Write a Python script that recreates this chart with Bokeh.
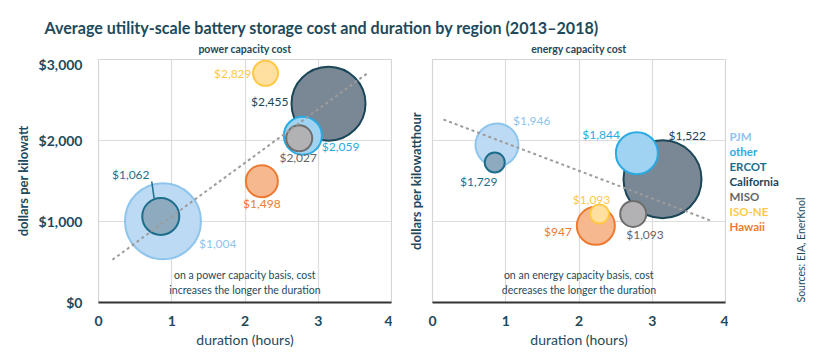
import numpy as np
from bokeh.plotting import figure
from bokeh.layouts import column, row
from bokeh.models import ColumnDataSource, FixedTicker, NumeralTickFormatter, Range1d
from bokeh.core.properties import value
from bokeh.embed import file_html
from bokeh.resources import INLINE

# ---------------- data ----------------
TITLE = "Average utility-scale battery storage cost and duration by region (2013\u20132018)"
regions = ["PJM", "other", "ERCOT", "California", "MISO", "ISO-NE", "Hawaii"]
duration_hours = [0.88, 2.79, 0.85, 3.14, 2.74, 2.28, 2.23]
power_cost = [1004, 2059, 1062, 2455, 2027, 2829, 1498]      # $/kW
energy_cost = [1946, 1844, 1729, 1522, 1093, 1093, 947]      # $/kWh
power_bubble = [76, 38, 37, 74, 26, 25, 32]                  # bubble diameter (px)
energy_bubble = [43, 42, 20, 78, 26, 19, 38]
x_ticks = [0, 1, 2, 3, 4]
y_ticks = [0, 1000, 2000, 3000]
power_trend_x = [0.19, 3.68]
power_trend_y = [527, 2836]
energy_trend_x = [0.15, 3.80]
energy_trend_y = [2259, 1010]
SUBTITLES = ["power capacity cost", "energy capacity cost"]
SOURCE = "Sources: EIA, EnerKnol"

# ---------------- styles ----------------
FONT = "Lato"
DARK = "#1e4a5b"
fill_colors = ["#bcdaf3", "#a0d3f1", "#8eaabf", "#7a8794", "#b2b2b4", "#ffe0a0", "#f6b98f"]
line_colors = ["#8ec5ec", "#29abe2", "#1c6e8c", "#1a4657", "#6e6e6e", "#ffc845", "#ee7a32"]
text_colors = ["#8ec5ec", "#29abe2", "#1c6e8c", "#1a4657", "#666666", "#ffc845", "#ee7a32"]
draw_order = [0, 3, 1, 2, 4, 6, 5]

power_lab = dict(align=["left", "left", "center", "right", "center", "right", "center"],
                 xo=[36, 19, -30, -40, -1, -14, 0],
                 yo=[22, 11, -42, -2, 19, 0, 22])
energy_lab = dict(align=["left", "right", "center", "left", "left", "center", "right"],
                  xo=[16, -17, -16, 6, -7, -8, -24],
                  yo=[-24, -19, 19, -44, 21, -14, 6])

# layout (pixels)
TITLE_H = 55
PANEL_H = 305
B_TOP, B_BOT = 4, 58
FRAME_H = PANEL_H - B_TOP - B_BOT


def make_panel(width, bl, br, ylabel, costs, bubbles, labs, trend_x, trend_y,
               note1, note2, show_ytick_labels):
    p = figure(width=width, height=PANEL_H, x_range=Range1d(0, 4), y_range=Range1d(0, 3000),
               output_backend="svg", toolbar_location=None, title=None,
               min_border_left=bl, min_border_right=br, min_border_top=B_TOP,
               min_border_bottom=B_BOT)
    p.background_fill_color = "white"
    p.border_fill_color = "white"
    p.outline_line_color = "#d6d6d6"
    p.outline_line_width = 1.2

    p.xaxis.ticker = FixedTicker(ticks=x_ticks)
    p.xgrid.ticker = FixedTicker(ticks=x_ticks)
    p.ygrid.ticker = FixedTicker(ticks=y_ticks)
    p.xgrid.grid_line_color = "#dcdcdc"
    p.ygrid.grid_line_color = "#dcdcdc"
    p.xgrid.grid_line_width = 1.2
    p.ygrid.grid_line_width = 1.2

    xa = p.xaxis[0]
    xa.axis_line_color = "#333333"
    xa.axis_line_width = 2
    xa.major_tick_line_color = None
    xa.minor_tick_line_color = None
    xa.major_label_text_font = FONT
    xa.major_label_text_font_style = "bold"
    xa.major_label_text_font_size = "14px"
    xa.major_label_text_color = DARK
    xa.major_label_standoff = 7
    xa.axis_label = "duration (hours)"
    xa.axis_label_text_font = FONT
    xa.axis_label_text_font_style = "normal"
    xa.axis_label_text_font_size = "14px"
    xa.axis_label_text_color = DARK
    xa.axis_label_standoff = 2

    ya = p.yaxis[0]
    ya.axis_line_color = None
    ya.major_tick_line_color = None
    ya.minor_tick_line_color = None
    if show_ytick_labels:
        ya.ticker = FixedTicker(ticks=y_ticks)
        ya.formatter = NumeralTickFormatter(format="$0,0")
        ya.major_label_text_font = FONT
        ya.major_label_text_font_style = "bold"
        ya.major_label_text_color = DARK
        ya.major_label_text_font_size = "14px"
        ya.major_label_standoff = 10
        ya.axis_label_standoff = 5
    else:
        ya.ticker = FixedTicker(ticks=[])
        ya.major_label_standoff = 0
        ya.axis_label_standoff = 9
    ya.axis_label = ylabel
    ya.axis_label_text_font = FONT
    ya.axis_label_text_font_style = "bold"
    ya.axis_label_text_font_size = "13px"
    ya.axis_label_text_color = DARK

    src = ColumnDataSource(dict(
        x=[duration_hours[i] for i in draw_order],
        y=[costs[i] for i in draw_order],
        size=[bubbles[i] for i in draw_order],
        fill=[fill_colors[i] for i in draw_order],
        line=[line_colors[i] for i in draw_order],
    ))
    p.scatter(x="x", y="y", size="size", fill_color="fill", line_color="line",
              line_width=2, fill_alpha=1.0, source=src)

    p.line(x=trend_x, y=trend_y, line_dash="3 3", line_color="#9c9c9c", line_width=2)

    lsrc = ColumnDataSource(dict(
        x=duration_hours, y=costs,
        text=["$" + format(v, ",") for v in costs],
        color=text_colors, align=labs["align"], xo=labs["xo"], yo=labs["yo"],
    ))
    p.text(x="x", y="y", text="text", source=lsrc, text_color="color", text_align="align",
           x_offset="xo", y_offset="yo", text_baseline="middle",
           text_font=value(FONT), text_font_size="12px")

    p.text(x=[2, 2], y=[0, 0], text=[note1, note2], y_offset=[-28, -13],
           text_align="center", text_baseline="middle", text_font=value(FONT),
           text_font_size="10.5px", text_color=DARK)
    return p


p1 = make_panel(392, 98, 1, "dollars per kilowatt", power_cost, power_bubble, power_lab,
                power_trend_x, power_trend_y,
                "on a power capacity basis, cost", "increases the longer the duration", True)

# leader line from the ERCOT label to its bubble (relative to the ERCOT point)
ie = regions.index("ERCOT")
p1.segment(x0=[duration_hours[ie] - 0.123], y0=[power_cost[ie] + 432],
           x1=[duration_hours[ie] - 0.091], y1=[power_cost[ie] + 227],
           line_color=line_colors[ie], line_width=1.5)

p2 = make_panel(336, 40, 3, "dollars per kilowatthour", energy_cost, energy_bubble, energy_lab,
                energy_trend_x, energy_trend_y,
                "on an energy capacity basis, cost", "decreases the longer the duration", False)


def blank(width, height, top=0, bottom=0):
    f = figure(width=width, height=height, x_range=Range1d(0, width),
               y_range=Range1d(0, height - top - bottom),
               min_border=0, min_border_top=top, min_border_bottom=bottom,
               x_axis_location=None, y_axis_location=None, title=None,
               toolbar_location=None, output_backend="svg")
    f.outline_line_color = None
    f.grid.visible = False
    f.background_fill_color = "white"
    f.border_fill_color = "white"
    return f


# title + panel subtitles (y measured up from the bottom of this strip)
t = blank(823, TITLE_H)
t.text(x=[44], y=[TITLE_H - 26.5], text=[TITLE], text_font=value(FONT), text_font_style="bold",
       text_font_size="16.1px", text_color=DARK, text_baseline="middle")
t.text(x=[244.5, 578.5], y=[7, 7], text=SUBTITLES,
       text_font=value(FONT), text_font_style="bold", text_font_size="10.5px",
       text_color=DARK, text_baseline="middle", text_align="center")

# legend + source note (y measured up from the panels' x-axis line)
LEG_W = 95
lg = blank(LEG_W, PANEL_H, B_TOP, B_BOT)
lg.text(x=[1] * len(regions), y=[166.3 - i * 15.1 for i in range(len(regions))],
        text=regions, text_color=text_colors, text_font=value(FONT), text_font_style="bold",
        text_font_size="11.5px", text_baseline="middle", text_align="left")
lg.text(x=[72], y=[0], text=[SOURCE], angle=np.pi / 2, text_align="left",
        text_baseline="middle", text_font=value(FONT), text_font_size="10.5px", text_color=DARK)

layout = column(t, row(p1, p2, lg, spacing=0), spacing=0)
open("out.html", "w").write(file_html(layout, INLINE))
